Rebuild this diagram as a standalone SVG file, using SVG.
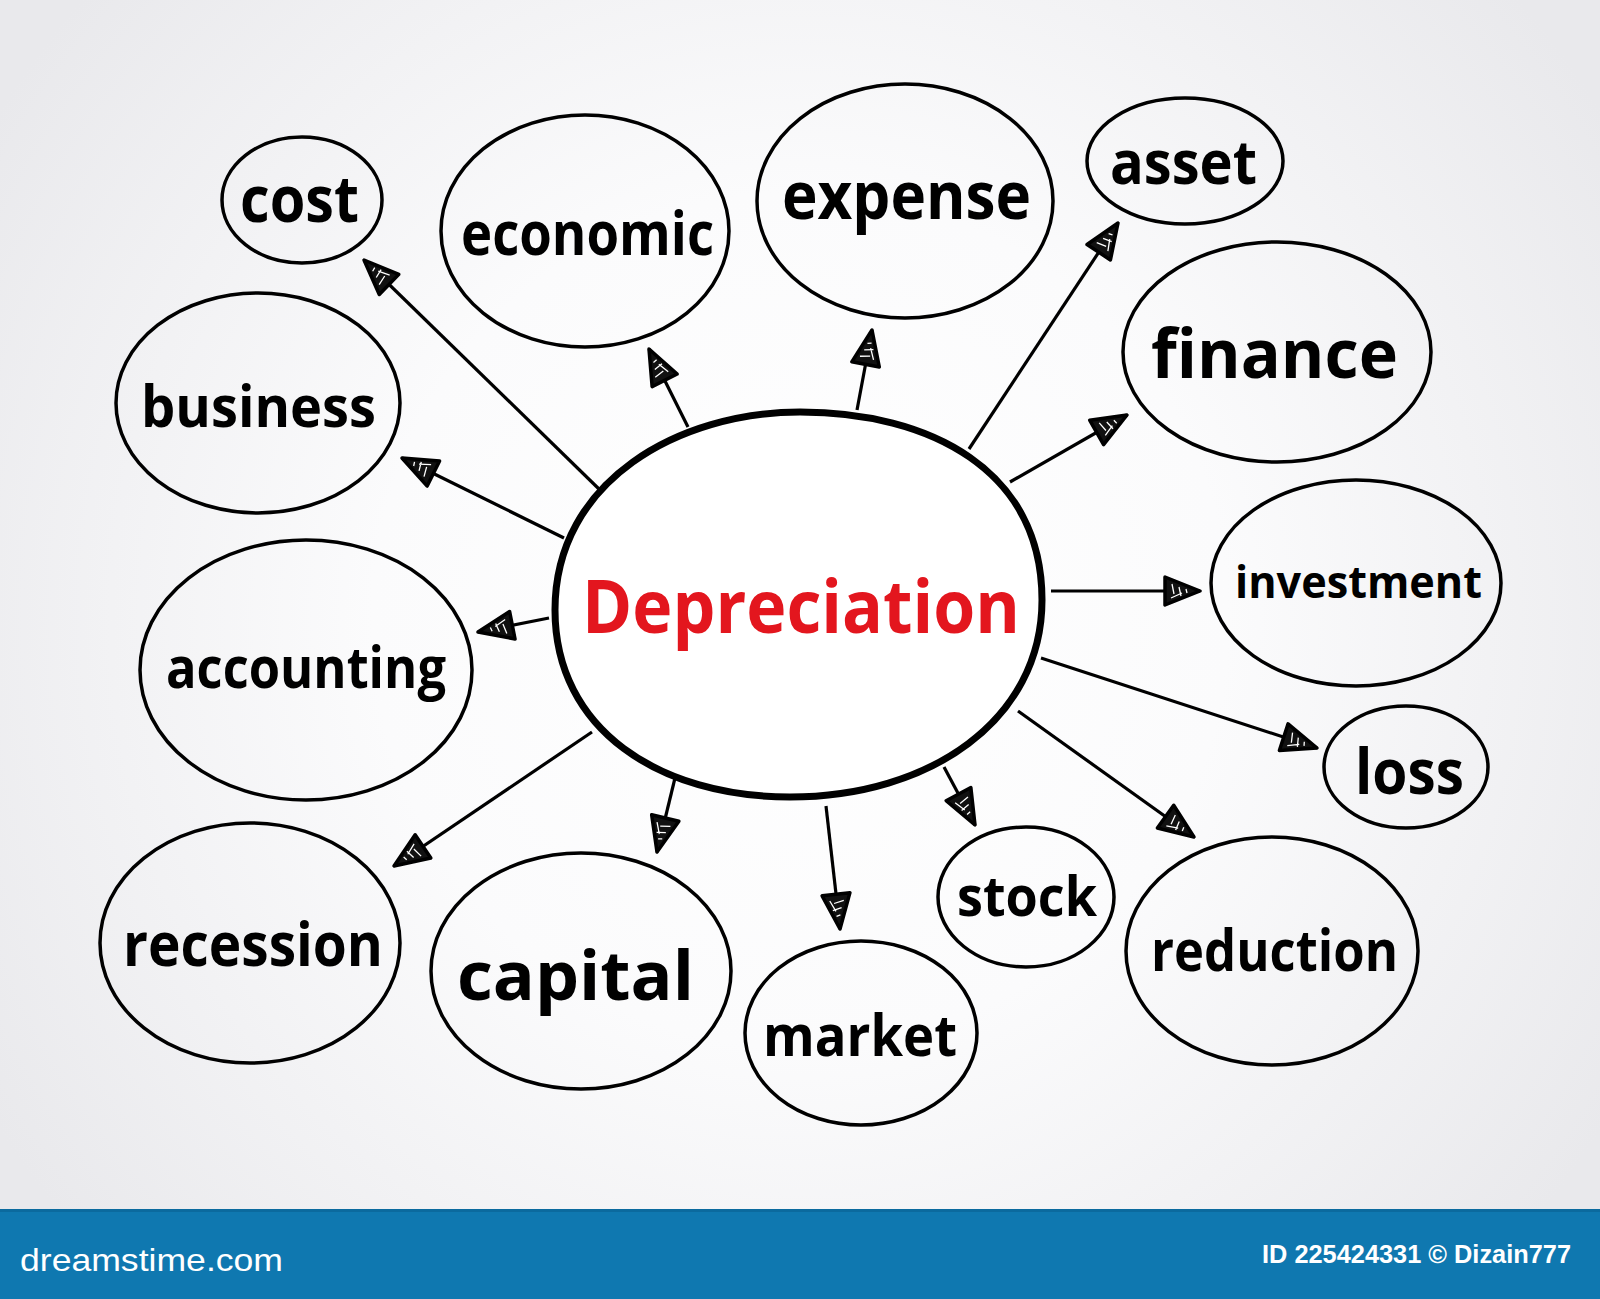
<svg xmlns="http://www.w3.org/2000/svg" width="1600" height="1299" viewBox="0 0 1600 1299">
<defs>
<radialGradient id="bg" cx="800" cy="620" r="950" gradientUnits="userSpaceOnUse">
<stop offset="0" stop-color="#ffffff"/>
<stop offset="0.45" stop-color="#fbfbfc"/>
<stop offset="1" stop-color="#e9e9ec"/>
</radialGradient>
<marker id="ah" viewBox="0 0 40 34" refX="38" refY="17" markerWidth="40" markerHeight="34" markerUnits="userSpaceOnUse" orient="auto">
<path d="M3,3 L38,17 L3,31 Z" fill="#111" stroke="#000" stroke-width="3.5" stroke-linejoin="round"/>
<path d="M10,10 L12,20 M17,13 L19,22 M24,15 L25,19 M9,24 L20,19" fill="none" stroke="#fff" stroke-width="1.3"/>
</marker>
<style>
.node{fill:none;stroke:#000;stroke-width:3.5}
.lbl{font-family:"Open Sans","Liberation Sans",sans-serif;font-weight:700;fill:#000;text-anchor:start}
.con{stroke:#000;stroke-width:3.2;fill:none;marker-end:url(#ah)}
.wm{font-family:"Liberation Sans",sans-serif;fill:#fff}
</style>
</defs>
<rect x="0" y="0" width="1600" height="1299" fill="url(#bg)"/>

<g id="connectors">
<line class="con" x1="600" y1="490" x2="364" y2="260"/>
<line class="con" x1="564" y1="538" x2="402" y2="458"/>
<line class="con" x1="549" y1="618" x2="478" y2="632"/>
<line class="con" x1="592" y1="732" x2="394" y2="866"/>
<line class="con" x1="675" y1="778" x2="657" y2="852"/>
<line class="con" x1="826" y1="806" x2="840" y2="929"/>
<line class="con" x1="944" y1="767" x2="975" y2="825"/>
<line class="con" x1="1018" y1="711" x2="1194" y2="837"/>
<line class="con" x1="1041" y1="658" x2="1317" y2="748"/>
<line class="con" x1="1051" y1="591" x2="1200" y2="591"/>
<line class="con" x1="1010" y1="482" x2="1127" y2="415"/>
<line class="con" x1="969" y1="449" x2="1118" y2="223"/>
<line class="con" x1="857" y1="410" x2="872" y2="330"/>
<line class="con" x1="688" y1="427" x2="649" y2="349"/>
</g>

<g id="center">
<path d="M555,610 C555,480 680,412 800,412 C930,412 1042,470 1042,600 C1042,720 930,797 790,797 C660,797 555,730 555,610 Z" fill="#fff" stroke="#000" stroke-width="7"/>
<text x="582" y="633" font-family="'Open Sans','Liberation Sans',sans-serif" font-weight="700" font-size="74" fill="#e3161e" textLength="438" lengthAdjust="spacingAndGlyphs">Depreciation</text>
</g>

<g id="n-cost"><ellipse class="node" cx="302" cy="200" rx="80" ry="63"/><text class="lbl" x="240" y="222" font-size="64" textLength="119" lengthAdjust="spacingAndGlyphs">cost</text></g>
<g id="n-economic"><ellipse class="node" cx="585" cy="231" rx="144" ry="116"/><text class="lbl" x="461" y="255" font-size="60" textLength="253" lengthAdjust="spacingAndGlyphs">economic</text></g>
<g id="n-expense"><ellipse class="node" cx="905" cy="201" rx="148" ry="117"/><text class="lbl" x="782" y="219" font-size="66" textLength="249" lengthAdjust="spacingAndGlyphs">expense</text></g>
<g id="n-asset"><ellipse class="node" cx="1185" cy="161" rx="98" ry="63"/><text class="lbl" x="1110" y="184" font-size="60" textLength="147" lengthAdjust="spacingAndGlyphs">asset</text></g>
<g id="n-finance"><ellipse class="node" cx="1277" cy="352" rx="154" ry="110"/><text class="lbl" x="1151" y="378" font-size="68" textLength="247" lengthAdjust="spacingAndGlyphs">finance</text></g>
<g id="n-investment"><ellipse class="node" cx="1356" cy="583" rx="145" ry="103"/><text class="lbl" x="1235" y="598" font-size="44" textLength="247" lengthAdjust="spacingAndGlyphs">investment</text></g>
<g id="n-loss"><ellipse class="node" cx="1406" cy="767" rx="82" ry="61"/><text class="lbl" x="1355" y="794" font-size="62" textLength="109" lengthAdjust="spacingAndGlyphs">loss</text></g>
<g id="n-reduction"><ellipse class="node" cx="1272" cy="951" rx="146" ry="114"/><text class="lbl" x="1151" y="971" font-size="58" textLength="247" lengthAdjust="spacingAndGlyphs">reduction</text></g>
<g id="n-stock"><ellipse class="node" cx="1026" cy="897" rx="88" ry="70"/><text class="lbl" x="957" y="916" font-size="56" textLength="140" lengthAdjust="spacingAndGlyphs">stock</text></g>
<g id="n-market"><ellipse class="node" cx="861" cy="1033" rx="116" ry="92"/><text class="lbl" x="763" y="1056" font-size="58" textLength="194" lengthAdjust="spacingAndGlyphs">market</text></g>
<g id="n-capital"><ellipse class="node" cx="581" cy="971" rx="150" ry="118"/><text class="lbl" x="457" y="1000" font-size="68" textLength="237" lengthAdjust="spacingAndGlyphs">capital</text></g>
<g id="n-recession"><ellipse class="node" cx="250" cy="943" rx="150" ry="120"/><text class="lbl" x="123" y="966" font-size="60" textLength="260" lengthAdjust="spacingAndGlyphs">recession</text></g>
<g id="n-accounting"><ellipse class="node" cx="306" cy="670" rx="166" ry="130"/><text class="lbl" x="166" y="688" font-size="58" textLength="280" lengthAdjust="spacingAndGlyphs">accounting</text></g>
<g id="n-business"><ellipse class="node" cx="258" cy="403" rx="142" ry="110"/><text class="lbl" x="141" y="427" font-size="58" textLength="235" lengthAdjust="spacingAndGlyphs">business</text></g>

<g id="footer">
<rect x="0" y="1209" width="1600" height="90" fill="#0f78b0"/>
<rect x="0" y="1209" width="1600" height="3" fill="#0b6a9e"/>
<text class="wm" x="20" y="1271" font-size="32" textLength="263" lengthAdjust="spacingAndGlyphs">dreamstime.com</text>
<text class="wm" x="1262" y="1263" font-size="26" font-weight="700" textLength="309" lengthAdjust="spacingAndGlyphs">ID 225424331 © Dizain777</text>
</g>
</svg>
